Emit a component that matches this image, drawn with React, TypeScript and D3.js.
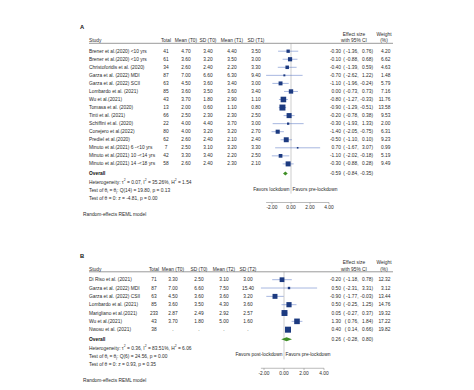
import React from "react";
import { scaleLinear } from "d3";

// ---- panel A data (pre-lockdown T0 vs lockdown T1) ----
const studiesA = [
  "Brener et al.(2020) <10 yrs",
  "Brener et al.(2020) <10 yrs",
  "Christoforidis et al. (2020)",
  "Garza et al. (2022) MDI",
  "Garza et al. (2022) SCII",
  "Lombardo et al. (2021)",
  "Wu et al.(2021)",
  "Tomasa et al. (2020)",
  "Tinti et al. (2021)",
  "Schiffini et al. (2020)",
  "Conejero et al.(2022)",
  "Prediel et al.(2020)",
  "Minuto et al.(2021) 6 -<10 yrs",
  "Minuto et al.(2021) 10 -<14 yrs",
  "Minuto et al.(2021) 14 -<18 yrs",
];
const totalA = ["41", "61", "34", "87", "63", "85", "43", "13", "66", "22", "80", "62", "7", "42", "58"];
const meanT0A = ["4.70", "3.60", "2.60", "7.00", "4.50", "3.60", "3.70", "2.00", "2.50", "4.00", "4.00", "2.60", "2.50", "3.30", "2.60"];
const sdT0A = ["3.40", "3.20", "2.40", "6.60", "3.60", "3.50", "1.80", "0.60", "2.30", "4.40", "3.20", "2.40", "3.10", "3.40", "2.40"];
const meanT1A = ["4.40", "3.50", "2.20", "6.30", "3.40", "3.60", "2.90", "1.10", "2.30", "3.70", "3.20", "2.10", "3.20", "2.20", "2.30"];
const sdT1A = ["3.50", "3.00", "3.30", "9.40", "3.00", "3.40", "1.10", "0.80", "2.50", "3.00", "2.70", "2.40", "3.30", "2.50", "2.10"];
const effA = [-0.3, -0.1, -0.4, -0.7, -1.1, 0.0, -0.8, -0.9, -0.2, -0.3, -1.4, -0.5, 0.7, -1.1, -0.3];
const lowA = [-1.36, -0.88, -1.39, -2.62, -1.96, -0.73, -1.27, -1.29, -0.78, -1.93, -2.05, -1.1, -1.67, -2.02, -0.88];
const highA = [0.76, 0.68, 0.59, 1.22, -0.24, 0.73, -0.33, -0.51, 0.38, 1.33, -0.75, 0.1, 3.07, -0.18, 0.28];
const weightA = [4.2, 6.62, 4.63, 1.48, 5.79, 7.16, 11.76, 13.58, 9.53, 2.0, 6.31, 9.23, 0.99, 5.19, 9.49];
const overallA = [-0.59, -0.84, -0.35];
const statsA = ["0.07", "35.26%", "1.54", "14", "19.80", "0.13", "-4.81", "0.00"];

// ---- panel B data (pre-lockdown T0 vs post-lockdown T2) ----
const studiesB = [
  "Di Riso et al. (2021)",
  "Garza et al. (2022) MDI",
  "Garza et al. (2022) CSII",
  "Lombardo et al. (2021)",
  "Marigliano et al.(2021)",
  "Wu et al.(2021)",
  "Nwosu et al. (2021)",
];
const totalB = ["71", "87", "63", "85", "233", "43", "38"];
const meanT0B = ["3.30", "7.00", "4.50", "3.60", "2.87", "3.70", "."];
const sdT0B = ["2.50", "6.60", "3.60", "3.50", "2.49", "1.80", "."];
const meanT2B = ["3.10", "7.50", "3.60", "4.30", "2.92", "5.00", "."];
const sdT2B = ["3.00", "15.40", "3.20", "3.60", "2.57", "1.60", "."];
const effB = [-0.2, 0.5, -0.9, 0.5, 0.05, 1.3, 0.4];
const lowB = [-1.18, -2.31, -1.77, -0.25, -0.27, 0.76, 0.14];
const highB = [0.78, 3.31, -0.03, 1.25, 0.37, 1.84, 0.66];
const weightB = [12.32, 3.12, 13.44, 14.76, 19.32, 17.22, 19.82];
const overallB = [0.26, -0.28, 0.8];
const statsB = ["0.36", "83.51%", "6.06", "6", "24.56", "0.00", "0.93", "0.35"];

const ticks = [-2, 0, 2, 4];

const FONT = "Liberation Sans, Arial, sans-serif";
const FS = 4.85;
const TXT = "#2b2b2b";
const NAVY = "#1c3a80";
const CI = "#4e6fc0";
const GREEN = "#3f8f26";

const f2 = (v: number) => (v < 0 ? "-" : "") + Math.abs(v).toFixed(2);

type PanelProps = {
  label: string;
  top: number;
  studies: string[];
  cols: string[][];
  colHeads: string[];
  colX: number[];
  eff: number[];
  low: number[];
  high: number[];
  weight: number[];
  overall: number[];
  stats: string[];
  rowStep: number;
  zeroX: number;
  unit: number;
  leftText: string;
};

function Panel(p: PanelProps) {
  const t = p.top;
  const minX = Math.min(...p.low);
  const x = scaleLinear().domain([minX, 4]).range([p.zeroX + minX * p.unit, p.zeroX + 4 * p.unit]);
  const n = p.studies.length;
  const y = scaleLinear().domain([0, 1]).range([t + 24.2, t + 24.2 + p.rowStep]);
  const overallY = y(n - 1) + 9.6;
  const lineY = t + 16.3;
  const favY = overallY + 15.6;
  const axisY = overallY + 29;
  const maxW = Math.max(...p.weight);
  const side = scaleLinear().domain([0, maxW]).range([0, 36]); // area scale
  const estR = 341, lowR = 358.5, upR = 373, wR = 390.5;
  const textProps = { fontFamily: FONT, fontSize: FS, fill: TXT, dominantBaseline: "central" as const };

  const ciText = (e: number, l: number, h: number, yy: number, key: string) => (
    <g key={key} {...textProps} textAnchor="end">
      <text x={estR} y={yy}>{f2(e)}</text>
      <text x={lowR} y={yy}>{"( " + f2(l) + ","}</text>
      <text x={upR} y={yy}>{f2(h) + ")"}</text>
    </g>
  );

  const [tau, i2, h2, df, q, pq, z, pz] = p.stats;
  const sub = (s: string) => (
    <tspan baselineShift="sub" fontSize={FS * 0.7}>{s}</tspan>
  );
  const sup = (s: string) => (
    <tspan baselineShift="super" fontSize={FS * 0.7}>{s}</tspan>
  );
  const sp = (s: string) => <tspan baselineShift="0">{s}</tspan>;

  return (
    <g>
      <text x={80} y={t} fontFamily={FONT} fontSize={5.8} fontWeight="bold" fill="#111" dominantBaseline="central">
        {p.label}
      </text>
      {/* headers */}
      <g {...textProps} textAnchor="middle">
        <text x={354} y={t + 7.2}>Effect size</text>
        <text x={354} y={t + 13.6}>with 95% CI</text>
        <text x={384} y={t + 7.2}>Weight</text>
        <text x={384} y={t + 13.6}>(%)</text>
      </g>
      <text {...textProps} x={89} y={t + 13.6}>Study</text>
      <g {...textProps} textAnchor="middle">
        {p.colHeads.map((h, i) => (
          <text key={h} x={p.colX[i]} y={t + 13.6}>{h}</text>
        ))}
      </g>
      <line x1={89} x2={393} y1={lineY} y2={lineY} stroke="#555" strokeWidth={0.6} />
      {/* zero line */}
      <line x1={x(0)} x2={x(0)} y1={lineY} y2={favY + 4.5} stroke="#999" strokeWidth={0.5} />
      {/* rows */}
      {p.studies.map((s, i) => {
        const yy = y(i);
        const a = Math.max(Math.sqrt(side(p.weight[i])), 1.6);
        return (
          <g key={"r" + i}>
            <text {...textProps} x={89} y={yy}>{s}</text>
            <g {...textProps} textAnchor="middle">
              {p.cols.map((c, j) => (
                <text key={j} x={p.colX[j]} y={yy}>{c[i]}</text>
              ))}
            </g>
            <line x1={x(p.low[i])} x2={x(p.high[i])} y1={yy} y2={yy} stroke={CI} strokeWidth={0.5} />
            <rect x={x(p.eff[i]) - a / 2} y={yy - a / 2} width={a} height={a} fill={NAVY} />
            {ciText(p.eff[i], p.low[i], p.high[i], yy, "c" + i)}
            <text {...textProps} textAnchor="end" x={wR} y={yy}>{p.weight[i].toFixed(2)}</text>
          </g>
        );
      })}
      {/* overall */}
      <text {...textProps} x={89} y={overallY} fontWeight="bold" fill="#111">Overall</text>
      <path
        d={`M${x(p.overall[1])},${overallY} L${x(p.overall[0])},${overallY - 2} L${x(p.overall[2])},${overallY} L${x(p.overall[0])},${overallY + 2} Z`}
        fill={GREEN}
      />
      {ciText(p.overall[0], p.overall[1], p.overall[2], overallY, "ov")}
      <text {...textProps} x={89} y={overallY + 8.4}>
        {sp("Heterogeneity: τ")}{sup("2")}{sp(" = " + tau + ", I")}{sup("2")}{sp(" = " + i2 + ", H")}{sup("2")}{sp(" = " + h2)}
      </text>
      <text {...textProps} x={89} y={overallY + 16.7}>
        {sp("Test of θ")}{sub("i")}{sp(" = θ")}{sub("j")}{sp(": Q(" + df + ") = " + q + ", p = " + pq)}
      </text>
      <text {...textProps} x={89} y={overallY + 25}>{"Test of θ = 0: z = " + z + ", p = " + pz}</text>
      <text {...textProps} x={83} y={overallY + 41}>Random-effects REML model</text>
      {/* favors */}
      <text {...textProps} x={x(0) - 1.5} y={favY} textAnchor="end">{p.leftText}</text>
      <text {...textProps} x={x(0) + 1.5} y={favY}>Favors pre-lockdown</text>
      {/* axis */}
      <line x1={x(minX)} x2={x(4)} y1={axisY} y2={axisY} stroke="#777" strokeWidth={0.5} />
      {ticks.map((tk) => (
        <g key={tk}>
          <line x1={x(tk)} x2={x(tk)} y1={axisY} y2={axisY + 1.8} stroke="#777" strokeWidth={0.5} />
          <text {...textProps} textAnchor="middle" x={x(tk)} y={axisY + 5.2}>{tk.toFixed(2)}</text>
        </g>
      ))}
    </g>
  );
}

export default function App() {
  return (
    <svg
      width={474}
      height={390}
      viewBox="0 0 474 390"
      style={{ position: "absolute", left: 0, top: 0, background: "#fff" }}
    >
      <rect width={474} height={390} fill="#fff" />
      <Panel
        label="A"
        top={27}
        studies={studiesA}
        cols={[totalA, meanT0A, sdT0A, meanT1A, sdT1A]}
        colHeads={["Total", "Mean (T0)", "SD (T0)", "Mean (T1)", "SD (T1)"]}
        colX={[166, 186, 208, 232, 256]}
        eff={effA}
        low={lowA}
        high={highA}
        weight={weightA}
        overall={overallA}
        stats={statsA}
        rowStep={8.05}
        zeroX={291}
        unit={9.5}
        leftText="Favors lockdown"
      />
      <Panel
        label="B"
        top={255.5}
        studies={studiesB}
        cols={[totalB, meanT0B, sdT0B, meanT2B, sdT2B]}
        colHeads={["Total", "Mean (T0)", "SD (T0)", "Mean (T2)", "SD (T2)"]}
        colX={[154, 173, 199, 224, 248]}
        eff={effB}
        low={lowB}
        high={highB}
        weight={weightB}
        overall={overallB}
        stats={statsB}
        rowStep={8.33}
        zeroX={284}
        unit={10}
        leftText="Favors post-lockdown"
      />
    </svg>
  );
}
